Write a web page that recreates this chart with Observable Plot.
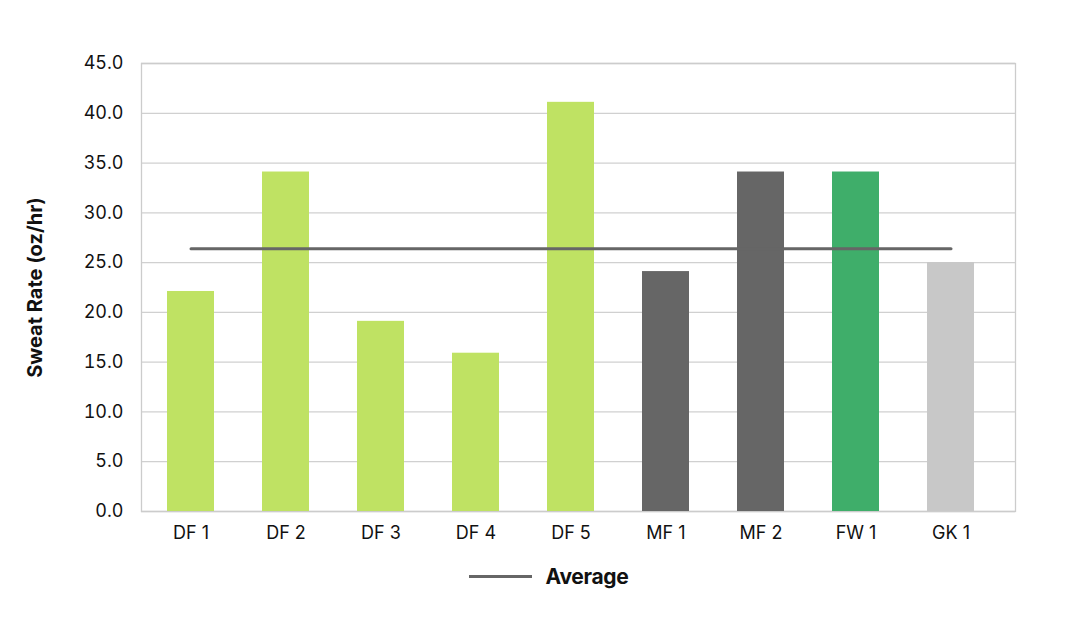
<!DOCTYPE html>
<html>
<head>
<meta charset="utf-8">
<script src="https://cdn.jsdelivr.net/npm/d3@7"></script>
<script src="https://cdn.jsdelivr.net/npm/@observablehq/plot@0.6"></script>
<style>
  html, body { margin: 0; padding: 0; background: #fff; }
  #chart { width: 1080px; height: 628px; position: relative; font-family: Inter, "Noto Sans", sans-serif; }
  #legend { position: absolute; left: 0; top: 564px; width: 1080px; padding-left: 18px; box-sizing: border-box; display: flex; justify-content: center; align-items: center; gap: 13px; }
  #legend .sw { width: 63px; height: 3px; background: #666666; }
  #legend .lab { font-weight: 700; font-size: 21px; color: #111; letter-spacing: -0.3px; }
</style>
</head>
<body>
<div id="chart"></div>
<script>
const players = ["DF 1", "DF 2", "DF 3", "DF 4", "DF 5", "MF 1", "MF 2", "FW 1", "GK 1"];
const sweatRate = [22.1, 34.1, 19.1, 15.9, 41.1, 24.1, 34.1, 34.1, 25.0];
const positions = ["DF", "DF", "DF", "DF", "DF", "MF", "MF", "FW", "GK"];
const averageRate = 26.4;
const yTicks = [0, 5, 10, 15, 20, 25, 30, 35, 40, 45];
const posColors = { DF: "#bfe263", MF: "#666666", FW: "#3fae6a", GK: "#c8c8c8" };

const data = players.map((p, i) => ({ player: p, value: sweatRate[i], pos: positions[i], avg: averageRate }));

const chart = Plot.plot({
  width: 1080,
  height: 555,
  marginLeft: 141,
  marginRight: 65,
  marginTop: 63,
  marginBottom: 44,
  style: { fontFamily: "Inter, 'Noto Sans', sans-serif", fontSize: "18px", color: "#111", background: "#fff" },
  x: { domain: players, range: [141, 999], paddingInner: 0.51, paddingOuter: 0.255, label: null },
  y: { domain: [0, 45], label: null },
  marks: [
    Plot.gridY(yTicks, { stroke: "#d0d0d0", strokeOpacity: 1, strokeWidth: 1.3 }),
    Plot.frame({ stroke: "#cccccc", strokeWidth: 1.3 }),
    Plot.barY(data, { x: "player", y: "value", fill: d => posColors[d.pos] }),
    Plot.line(data, { x: "player", y: "avg", stroke: "#666666", strokeWidth: 3 }),
    Plot.axisY(yTicks, { tickSize: 0, tickPadding: 18, tickFormat: d => d.toFixed(1), fontSize: 18, fill: "#111", label: null }),
    Plot.axisX({ tickSize: 0, tickPadding: 15, fontSize: 18, fill: "#111", label: null }),
    Plot.text(["Sweat Rate (oz/hr)"], { frameAnchor: "left", textAnchor: "middle", dx: -106, rotate: -90, fontWeight: 700, fontSize: 20, fill: "#111" })
  ]
});

document.getElementById("chart").appendChild(chart);
const legend = document.createElement("div");
legend.id = "legend";
legend.innerHTML = '<div class="sw"></div><div class="lab">Average</div>';
document.getElementById("chart").appendChild(legend);
</script>
</body>
</html>
